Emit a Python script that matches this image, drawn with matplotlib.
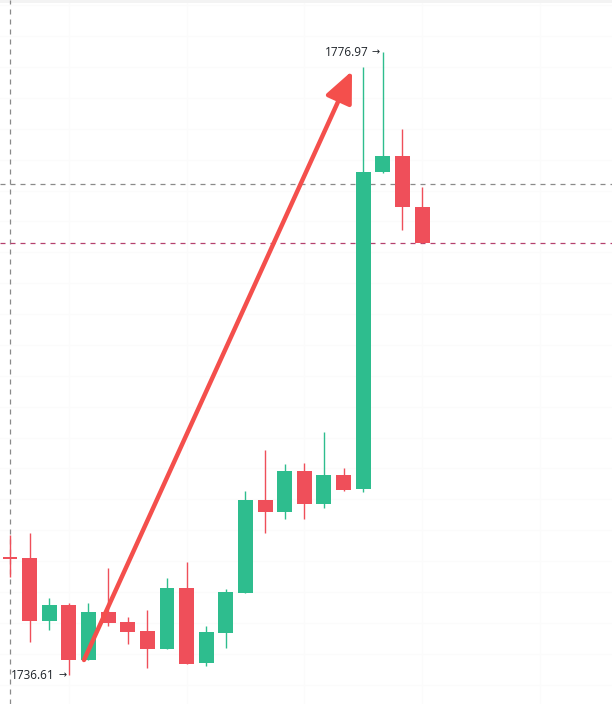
import matplotlib
matplotlib.use("Agg")
import numpy as np
from matplotlib import pyplot as plt

# OHLC candles
opens  = [1744.26, 1744.20, 1740.12, 1741.15, 1737.59, 1740.70, 1740.05, 1739.47,
          1738.30, 1742.26, 1737.40, 1739.34, 1741.93, 1747.95, 1747.18, 1749.83,
          1747.69, 1749.57, 1748.67, 1769.20, 1770.23, 1766.93]
highs  = [1745.69, 1745.82, 1741.61, 1741.28, 1741.28, 1743.55, 1740.38, 1740.83,
          1742.90, 1743.94, 1739.79, 1742.19, 1748.54, 1751.19, 1750.29, 1750.35,
          1752.36, 1750.03, 1776.00, 1776.97, 1771.98, 1768.23]
lows   = [1742.97, 1738.76, 1739.53, 1736.61, 1737.59, 1739.79, 1738.63, 1737.07,
          1738.30, 1737.33, 1737.20, 1738.37, 1741.93, 1745.82, 1746.72, 1746.72,
          1747.43, 1748.54, 1748.47, 1769.13, 1765.44, 1764.60]
closes = [1744.13, 1740.12, 1741.15, 1737.59, 1740.70, 1739.99, 1739.40, 1738.30,
          1742.26, 1737.33, 1739.40, 1742.00, 1747.95, 1747.18, 1749.83, 1747.69,
          1749.57, 1748.60, 1769.20, 1770.23, 1766.93, 1764.60]

low_label = "1736.61"
high_label = "1776.97"
crosshair_price = 1768.42
last_price = 1764.60

GREEN = "#2ebd8e"
RED = "#ef4f5a"

plt.rcParams['font.family'] = ['Open Sans', 'DejaVu Sans']

fig = plt.figure(figsize=(6.12, 7.04), dpi=100)
ax = fig.add_axes([0, 0, 1, 1])
ax.set_xlim(-0.51, 30.68)
ax.set_ylim(1734.74, 1780.34)
ax.axis("off")

# very faint background grid
for gx in np.arange(3, 31, 6):
    ax.axvline(gx, color="#fbfbfb", lw=0.8, zorder=0)
for gy in np.arange(1736, 1781, 2):
    ax.axhline(gy, color="#fbfbfb", lw=0.8, zorder=0)

# top strip
ax.axhspan(1780.15, 1780.34, color="#f3f3f3", lw=0, zorder=0)

x = np.arange(len(opens))
o = np.array(opens)
c = np.array(closes)
up = c >= o
colors = np.where(up, GREEN, RED)
body = np.maximum(np.abs(c - o), 0.1)

ax.axvline(0, color="#8a8a8a", lw=0.9, ls=(0, (4, 4)), zorder=1)
ax.axhline(crosshair_price, color="#8a8a8a", lw=0.9, ls=(0, (4, 4)), zorder=1)
ax.axhline(last_price, color="#b5406e", lw=0.9, ls=(0, (4, 4)), zorder=1)

ax.vlines(x, lows, highs, colors=colors, lw=1.0, zorder=2)
ax.bar(x, body, bottom=np.minimum(o, c), width=0.76, color=colors, zorder=3)

# big red arrow
ax.annotate("", xy=(17.43, 1775.74), xytext=(3.77, 1737.59),
            arrowprops=dict(arrowstyle="-|>,head_length=1.9,head_width=0.85",
                            color="#f44f4c", lw=3.2, shrinkA=0, shrinkB=0),
            zorder=4)

# min / max labels
ax.text(0.05, 1736.61, low_label, fontsize=8.5, color="#1e2329",
        ha="left", va="center")
ax.text(2.45, 1736.61, "→", fontsize=7, color="#1e2329", ha="left",
        va="center", family=['DejaVu Sans'])
ax.text(18.27, 1776.95, high_label, fontsize=8.5, color="#1e2329",
        ha="right", va="center")
ax.text(18.4, 1776.95, "→", fontsize=7, color="#1e2329", ha="left",
        va="center", family=['DejaVu Sans'])

fig.savefig("out.png", dpi=100)
